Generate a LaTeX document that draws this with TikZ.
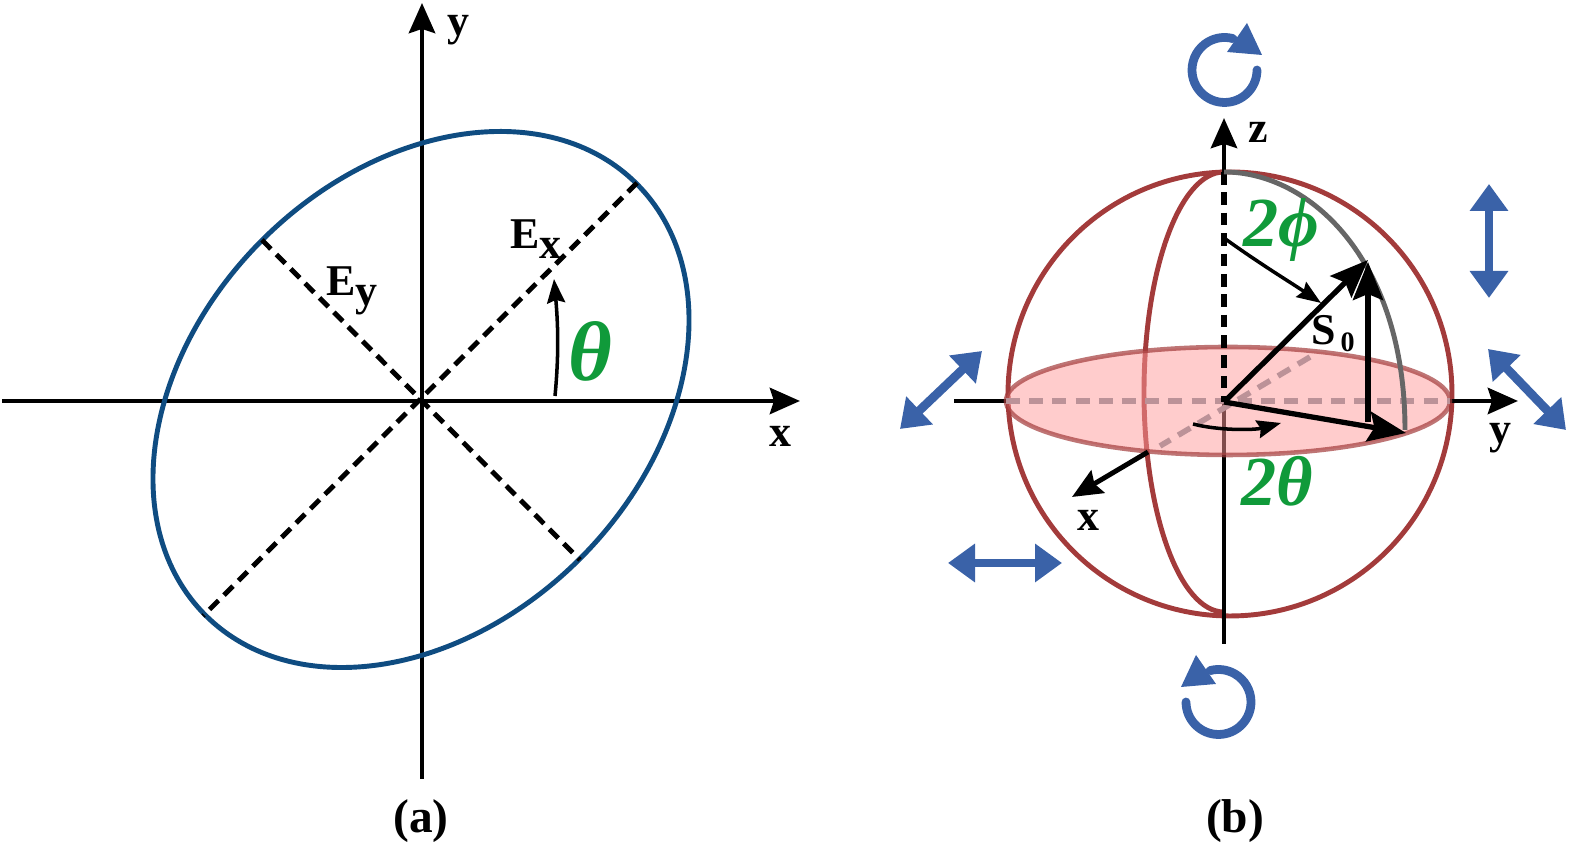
\documentclass[tikz,border=0pt]{standalone}
\usepackage{fontspec}
\setmainfont{Liberation Serif}
\usetikzlibrary{arrows.meta,calc}
\definecolor{ellblue}{HTML}{0F4C81}
\definecolor{sphred}{HTML}{A33B3B}
\definecolor{statblue}{HTML}{3A62A8}
\definecolor{anggreen}{HTML}{109A3A}
\definecolor{diskdash}{HTML}{BC9298}
\tikzset{
	axis/.style={line width=1.4pt,-{Stealth[length=0.3cm,width=0.26cm,inset=0.04cm]}},
	plainaxis/.style={line width=1.4pt},
	dashaxis/.style={line width=1.4pt,dash pattern=on 3.6pt off 2.2pt},
	vect/.style={line width=1.5pt,-{Stealth[length=0.38cm,width=0.3cm,inset=0.06cm]}},
	thin arc/.style={line width=1pt,-{Stealth[length=0.24cm,width=0.18cm,inset=0.03cm]}},
	statearrow/.style={statblue,line width=2.5pt,{Triangle[length=0.27cm,width=0.37cm]}-{Triangle[length=0.27cm,width=0.37cm]}},
	lab/.style={font=\bfseries\fontsize{12.5}{14}\selectfont,inner sep=0pt},
	ang/.style={anggreen,font=\bfseries\itshape\fontsize{20}{22}\selectfont,inner sep=0pt},
}
\begin{document}
\begin{tikzpicture}
	\useasboundingbox (0, 0) rectangle (15.7, 8.44);
	%%%%% (a) %%%%%
	\coordinate (orgA) at (4.21, 4.43);
	\draw[axis] (0.02, 4.43) -- (8.0, 4.43);
	\draw[axis] (4.22, 0.65) -- (4.22, 8.41);
	\draw[ellblue,line width=1.4pt,rotate around={45:(4.21, 4.445)}] (4.21, 4.445) ellipse (3.05 and 2.25);
	\draw[dashaxis] (6.37, 6.61) -- (2.03, 2.28);
	\draw[dashaxis] (2.62, 6.04) -- (5.8, 2.84);
	\draw[thin arc] (5.55, 4.48) .. controls (5.59, 4.9) and (5.58, 5.2) .. (5.54, 5.65);
	\node[lab] (lblYa) at (4.58, 8.14) {y};
	\node[lab] (lblXa) at (7.80, 4.08) {x};
	\node[lab] (lblEx) at (5.36, 6.05) {E\raisebox{-3pt}{x}};
	\node[lab] (lblEy) at (3.52, 5.53) {E\raisebox{-3pt}{y}};
	\node[ang,font=\bfseries\itshape\fontsize{24}{26}\selectfont] (lblTheta) at (5.90, 4.93) {θ};
	\node[lab,font=\bfseries\fontsize{13.5}{16}\selectfont] (lblA) at (4.21, 0.23) {(a)};
	%%%%% (b) %%%%%
	\coordinate (orgB) at (12.24, 4.42);
	\draw[sphred,line width=1.4pt] (12.3, 4.5) circle (2.22);
	\draw[sphred,line width=1.4pt] (12.24, 6.72) arc (90:270:0.8 and 2.2);
	\draw[plainaxis] (12.24, 2.0) -- (orgB);
	\draw[plainaxis] (9.54, 4.43) -- (10.06, 4.43);
	\draw[axis] (14.5, 4.43) -- (15.18, 4.43);
	\draw[axis] (12.24, 6.72) -- (12.24, 7.26);
	\draw[fill=red!40,fill opacity=0.5,draw=sphred,draw opacity=0.7,line width=1.3pt] (12.28, 4.43) ellipse (2.22 and 0.54);
	\draw[diskdash,line width=1.6pt,dash pattern=on 4pt off 2.6pt] (10.06, 4.43) -- (14.5, 4.43);
	\draw[diskdash,line width=1.6pt,dash pattern=on 4pt off 2.6pt] (13.1, 4.87) -- (11.6, 3.98);
	\draw[axis] (11.48, 3.92) -- (10.72, 3.47);
	\draw[dashaxis,line width=1.7pt] (12.24, 6.72) -- (orgB);
	\draw[black!60,line width=1.4pt] (12.24, 6.72) .. controls (13.1, 6.72) and (14.05, 5.84) .. (14.05, 4.14);
	\draw[vect] (orgB) -- (13.68, 5.84);
	\draw[vect] (13.68, 4.22) -- (13.68, 5.82);
	\draw[vect] (orgB) -- (14.06, 4.11);
	\draw[thin arc] (12.24, 6.06) .. controls (12.6, 5.8) and (12.9, 5.62) .. (13.21, 5.41);
	\draw[thin arc] (11.93, 4.2) .. controls (12.2, 4.13) and (12.55, 4.14) .. (12.81, 4.21);
	\node[lab] (lblZ) at (12.58, 7.12) {z};
	\node[lab] (lblYb) at (15.0, 4.06) {y};
	\node[lab] (lblXb) at (10.88, 3.24) {x};
	\node[lab] (lblS) at (13.33, 5.10) {S\raisebox{-2pt}{\fontsize{8}{9}\selectfont\,0}};
	\node[ang] (lblPhi) at (12.81, 6.14) {2ϕ};
	\node[ang] (lblTwoTh) at (12.77, 3.63) {2θ};
	\node[lab,font=\bfseries\fontsize{13.5}{16}\selectfont] (lblB) at (12.35, 0.23) {(b)};
	%%%%% polarisation states %%%%%
	\draw[statearrow] (14.89, 6.6) -- (14.89, 5.46);
	\draw[statearrow] (9.0, 4.15) -- (9.82, 4.93);
	\draw[statearrow] (14.88, 4.95) -- (15.66, 4.14);
	\draw[statearrow] (9.48, 2.81) -- (10.62, 2.81);
	\draw[statblue,line width=2.5pt,line cap=round] (12.57, 7.74) arc (0:-285:0.325);
	\fill[statblue] (12.47, 8.21) -- (12.62, 7.89) -- (12.27, 7.92) -- cycle;
	\draw[statblue,line width=2.5pt,line cap=round] (11.86, 1.42) arc (180:465:0.325);
	\fill[statblue] (11.96, 1.89) -- (11.81, 1.57) -- (12.16, 1.60) -- cycle;
\end{tikzpicture}
\end{document}
